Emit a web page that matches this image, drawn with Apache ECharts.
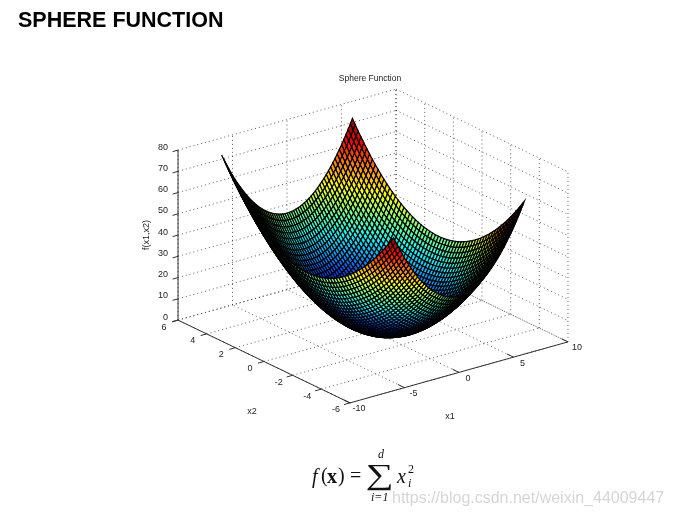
<!DOCTYPE html>
<html><head><meta charset="utf-8">
<style>html,body{margin:0;padding:0;background:#fff}#c{width:673px;height:518px}</style>
<script src="https://cdn.jsdelivr.net/npm/echarts@6/dist/echarts.min.js"></script>
</head><body><div id="c"></div>
<script>
// Tick labels
var x1Ticks = [-10, -5, 0, 5, 10];
var x2Ticks = [6, 4, 2, 0, -2, -4, -6];
var zTicks = [0, 10, 20, 30, 40, 50, 60, 70, 80];
// Mesh positions on both inputs and the squared term each one contributes to f(x1,x2)
var meshPositions = [-6,-5.8,-5.6,-5.4,-5.2,-5,-4.8,-4.6,-4.4,-4.2,-4,-3.8,-3.6,-3.4,-3.2,-3,-2.8,-2.6,-2.4,-2.2,-2,-1.8,-1.6,-1.4,-1.2,-1,-0.8,-0.6,-0.4,-0.2,0,0.2,0.4,0.6,0.8,1,1.2,1.4,1.6,1.8,2,2.2,2.4,2.6,2.8,3,3.2,3.4,3.6,3.8,4,4.2,4.4,4.6,4.8,5,5.2,5.4,5.6,5.8,6];
var squaredTerms = [36,33.64,31.36,29.16,27.04,25,23.04,21.16,19.36,17.64,16,14.44,12.96,11.56,10.24,9,7.84,6.76,5.76,4.84,4,3.24,2.56,1.96,1.44,1,0.64,0.36,0.16,0.04,0,0.04,0.16,0.36,0.64,1,1.44,1.96,2.56,3.24,4,4.84,5.76,6.76,7.84,9,10.24,11.56,12.96,14.44,16,17.64,19.36,21.16,23.04,25,27.04,29.16,31.36,33.64,36];
var zMaxValue = 72;

// Fixed MATLAB-like view: how one data unit maps onto the hidden flat axes
var view = {x1: [10.9, -3.05], x2: [-14.33, -6.9], z: [0, -2.125]};
function flat(a, b, c) {
  return [a * view.x1[0] + b * view.x2[0] + c * view.z[0],
          a * view.x1[1] + b * view.x2[1] + c * view.z[1]];
}
function jet(t) {
  function ch(v) { return Math.round(255 * Math.max(0, Math.min(1, v))); }
  var s = 4 * t;
  return 'rgb(' + ch(Math.min(s - 1.5, 4.5 - s)) + ',' + ch(Math.min(s - 0.5, 3.5 - s)) + ',' + ch(Math.min(s + 0.5, 2.5 - s)) + ')';
}

var x1Lo = x1Ticks[0], x1Hi = x1Ticks[x1Ticks.length - 1];
var x2Hi = x2Ticks[0], x2Lo = x2Ticks[x2Ticks.length - 1];
var zLo = zTicks[0], zHi = zTicks[zTicks.length - 1];

var gridSegs = [], axisSegs = [], labels = [];
x1Ticks.forEach(function (v) {
  gridSegs.push([v, x2Lo, zLo, v, x2Hi, zLo]);
  gridSegs.push([v, x2Hi, zLo, v, x2Hi, zHi]);
});
x2Ticks.forEach(function (v) {
  gridSegs.push([x1Lo, v, zLo, x1Hi, v, zLo]);
  gridSegs.push([x1Hi, v, zLo, x1Hi, v, zHi]);
});
zTicks.forEach(function (v) {
  gridSegs.push([x1Lo, x2Hi, v, x1Hi, x2Hi, v]);
  gridSegs.push([x1Hi, x2Hi, v, x1Hi, x2Lo, v]);
});
axisSegs.push([x1Lo, x2Hi, zLo, x1Lo, x2Hi, zHi]);
axisSegs.push([x1Lo, x2Hi, zLo, x1Lo, x2Lo, zLo]);
axisSegs.push([x1Lo, x2Lo, zLo, x1Hi, x2Lo, zLo]);
x1Ticks.forEach(function (v) {
  axisSegs.push([v, x2Lo, zLo, v, x2Lo + 0.45, zLo]);
  labels.push([v, x2Lo, zLo, String(v), 9, 6, 'center']);
});
x2Ticks.forEach(function (v) {
  axisSegs.push([x1Lo, v, zLo, x1Lo - 0.55, v, zLo]);
  labels.push([x1Lo, v, zLo, String(v), -14, 7, 'center']);
});
zTicks.forEach(function (v) {
  axisSegs.push([x1Lo, x2Hi, v, x1Lo - 0.5, x2Hi, v]);
  labels.push([x1Lo, x2Hi, v, String(v), -10, -3, 'right']);
});

var cells = [], n = meshPositions.length;
for (var i = n - 2; i >= 0; i--) for (var j = n - 2; j >= 0; j--) cells.push([i, j]);

function pt(api, a, b, c) { return api.coord(flat(a, b, c)); }
function renderSeg(stroke, dash, width) {
  return function (p, api) {
    var A = pt(api, api.value(0), api.value(1), api.value(2));
    var B = pt(api, api.value(3), api.value(4), api.value(5));
    return {type: 'line', shape: {x1: A[0], y1: A[1], x2: B[0], y2: B[1]},
      style: {stroke: stroke, lineWidth: width, lineDash: dash, fill: null}, silent: true};
  };
}
function renderCell(p, api) {
  var i = api.value(0), j = api.value(1);
  var idx = [[i, j], [i + 1, j], [i + 1, j + 1], [i, j + 1]];
  var sum = 0;
  var pts = idx.map(function (q) {
    var z = squaredTerms[q[0]] + squaredTerms[q[1]];
    sum += z;
    return pt(api, meshPositions[q[0]], meshPositions[q[1]], z);
  });
  return {type: 'polygon', shape: {points: pts},
    style: {fill: jet(sum / 4 / zMaxValue), stroke: '#000', lineWidth: 1.2}, silent: true};
}
function renderLabel(p, api) {
  var P = pt(api, api.value(0), api.value(1), api.value(2));
  return {type: 'text', silent: true, style: {
    x: P[0] + api.value(4), y: P[1] + api.value(5), text: labels[p.dataIndex][3],
    fill: '#222', font: '9px "Liberation Sans"', align: labels[p.dataIndex][6], verticalAlign: 'middle'}};
}

var serif = '"Liberation Serif"';
function tx(x, y, text, font, fill, extra) {
  var s = {x: x, y: y, text: text, font: font, fill: fill || '#111', textAlign: 'left', textVerticalAlign: 'middle'};
  for (var k in extra || {}) s[k] = extra[k];
  return {type: 'text', silent: true, style: s};
}

var chart = echarts.init(document.getElementById('c'), null, {renderer: 'canvas'});
chart.setOption({
  animation: false,
  backgroundColor: '#fff',
  grid: {left: 0, right: 0, top: 0, bottom: 0},
  xAxis: {type: 'value', min: -373, max: 300, show: false},
  yAxis: {type: 'value', min: -331, max: 187, inverse: true, show: false},
  graphic: [
    tx(18, 21, 'SPHERE FUNCTION', 'bold 21.5px "Liberation Sans"', '#000'),
    tx(370, 79, 'Sphere Function', '8.5px "Liberation Sans"', '#222', {textAlign: 'center'}),
    tx(450, 417, 'x1', '9px "Liberation Sans"', '#222', {textAlign: 'center'}),
    tx(252, 412, 'x2', '9px "Liberation Sans"', '#222', {textAlign: 'center'}),
    {type: 'text', silent: true, x: 147, y: 235, rotation: Math.PI / 2,
     style: {x: 0, y: 0, text: 'f(x1,x2)', font: '9px "Liberation Sans"', fill: '#222', textAlign: 'center', textVerticalAlign: 'middle'}},
    tx(312, 478, 'f', 'italic 20px ' + serif),
    tx(321, 477, '(', '20px ' + serif),
    tx(327, 478, 'x', 'bold 20px ' + serif),
    tx(338, 477, ')', '20px ' + serif),
    tx(350, 477, '=', '20px ' + serif),
    {type: 'text', silent: true, x: 380, y: 476, scaleX: 1.15, scaleY: 0.85,
     style: {x: 0, y: 0, text: '\u2211', font: '34px ' + serif, fill: '#111', textAlign: 'center', textVerticalAlign: 'middle'}},
    tx(378, 455, 'd', 'italic 12px ' + serif),
    tx(371, 498, 'i=1', 'italic 12px ' + serif),
    tx(397, 478, 'x', 'italic 20px ' + serif),
    tx(408, 470, '2', '12px ' + serif),
    tx(408, 484, 'i', 'italic 12px ' + serif),
    tx(392, 499, 'https://blog.csdn.net/weixin_44009447', '16px "Liberation Sans"', 'rgba(150,150,150,0.4)')
  ],
  series: [
    {type: 'custom', coordinateSystem: 'cartesian2d', data: gridSegs, clip: false, silent: true,
     encode: {x: 0, y: 1}, renderItem: renderSeg('#333', [1, 3], 0.8)},
    {type: 'custom', coordinateSystem: 'cartesian2d', data: cells, clip: false, silent: true, progressive: 0,
     encode: {x: 0, y: 1}, renderItem: renderCell},
    {type: 'custom', coordinateSystem: 'cartesian2d', data: axisSegs, clip: false, silent: true,
     encode: {x: 0, y: 1}, renderItem: renderSeg('#333', null, 1)},
    {type: 'custom', coordinateSystem: 'cartesian2d', data: labels, clip: false, silent: true,
     dimensions: ['a', 'b', 'c', {name: 't', type: 'ordinal'}, 'dx', 'dy', {name: 'al', type: 'ordinal'}],
     encode: {x: 0, y: 1}, renderItem: renderLabel}
  ]
});
</script></body></html>
